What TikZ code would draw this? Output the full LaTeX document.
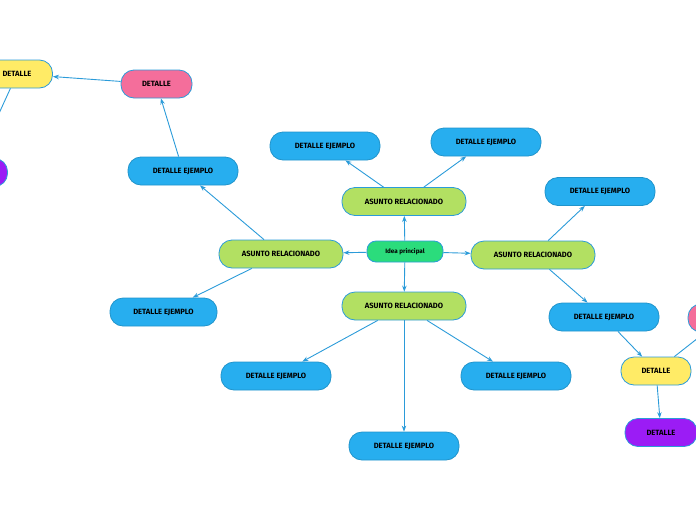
\documentclass[tikz,border=0pt]{standalone}
\usepackage{fontspec}
\setmainfont{Fira Sans}
\usetikzlibrary{arrows.meta}

\definecolor{ideagreen}{HTML}{2BDC7C}
\definecolor{asuntolime}{HTML}{B2E062}
\definecolor{detblue}{HTML}{27AEEF}
\definecolor{detpink}{HTML}{F46E9B}
\definecolor{detyellow}{HTML}{FFEB66}
\definecolor{detpurple}{HTML}{9B1CF5}
\definecolor{linkblue}{HTML}{2B9BD9}

\tikzset{
  pill/.style={draw=linkblue, line width=0.8pt, rounded corners=13pt, inner sep=0pt,
    minimum height=28pt, font=\fontsize{7.6}{9}\selectfont\bfseries},
  idea/.style={pill, fill=ideagreen, minimum width=76pt, minimum height=21pt, rounded corners=9pt,
    font=\fontsize{6.3}{7}\selectfont\bfseries},
  asunto/.style={pill, fill=asuntolime, minimum width=124pt},
  ejemplo/.style={pill, fill=detblue, draw=detblue!85!black, minimum width=110pt},
  detalle/.style={pill, minimum width=71pt},
  link/.style={draw=linkblue, line width=0.9pt, -{Stealth[length=6pt,width=4.5pt]}},
  plainlink/.style={draw=linkblue, line width=0.9pt}
}

\begin{document}
\begin{tikzpicture}[x=1pt,y=-1pt]
\useasboundingbox (0,0) rectangle (696,520);
\clip (0,0) rectangle (696,520);

% centre
\node[idea] (I) at (405,251.5) {Idea principal};

% asuntos
\node[asunto] (AT) at (404,201.5) {ASUNTO RELACIONADO};
\node[asunto] (AL) at (281,254) {ASUNTO RELACIONADO};
\node[asunto] (AR) at (533,255) {ASUNTO RELACIONADO};
\node[asunto] (AB) at (404,306) {ASUNTO RELACIONADO};

% detalles ejemplo
\node[ejemplo] (ETL) at (325,146) {DETALLE EJEMPLO};
\node[ejemplo] (ETR) at (486,142) {DETALLE EJEMPLO};
\node[ejemplo] (ERT) at (600,191.5) {DETALLE EJEMPLO};
\node[ejemplo] (ERB) at (604,317) {DETALLE EJEMPLO};
\node[ejemplo] (EBL) at (276,376) {DETALLE EJEMPLO};
\node[ejemplo] (EBR) at (516,376) {DETALLE EJEMPLO};
\node[ejemplo] (EB) at (404,446) {DETALLE EJEMPLO};
\node[ejemplo, minimum width=107pt] (EL) at (163.5,312) {DETALLE EJEMPLO};
\node[ejemplo] (EUL) at (183,171) {DETALLE EJEMPLO};

% detalles
\node[detalle, fill=detpink] (PL) at (156.5,84) {DETALLE};
\node[detalle, fill=detyellow] (YL) at (17,74) {DETALLE};
\node[detalle, fill=detpurple] (VL) at (-28,172.5) {DETALLE};
\node[detalle, fill=detyellow, minimum width=70pt] (YR) at (656,371) {DETALLE};
\node[detalle, fill=detpurple, minimum width=72pt] (VR) at (661,432.5) {DETALLE};
\node[detalle, fill=detpink] (PR) at (723.5,318) {DETALLE};

% links
\draw[link] (I) -- (AT);
\draw[link] (I) -- (AL);
\draw[link] (I) -- (AR);
\draw[link] (I) -- (AB);
\draw[link] (AT) -- (ETL);
\draw[link] (AT) -- (ETR);
\draw[link] (AL) -- (EUL);
\draw[link] (AL) -- (EL);
\draw[link] (AR) -- (ERT);
\draw[link] (AR) -- (ERB);
\draw[link] (AB) -- (EBL);
\draw[link] (AB) -- (EBR);
\draw[link] (AB) -- (EB);
\draw[link] (EUL) -- (PL);
\draw[link] (PL) -- (YL);
\draw[link] (YL) -- (VL);
\draw[link] (ERB) -- (YR);
\draw[plainlink] (PR) -- (YR);
\draw[link] (YR) -- (VR);

\end{tikzpicture}
\end{document}
